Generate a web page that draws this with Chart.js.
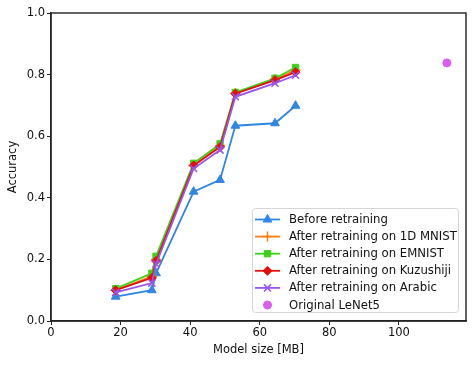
<!DOCTYPE html>
<html>
<head>
<meta charset="utf-8">
<script src="https://cdn.jsdelivr.net/npm/chart.js@4/dist/chart.umd.min.js"></script>
<style>
  body { margin: 0; background: #fff; }
  #wrap { width: 474px; height: 365px; }
</style>
</head>
<body>
<div id="wrap"><canvas id="grafico" width="474" height="365"></canvas></div>
<script>
// tamaños de modelo (MB) y precisión de cada serie
const tamanos = [18.6, 29.0, 30.2, 41.0, 48.6, 53.0, 64.4, 70.3];
const antes = [0.079, 0.10, 0.155, 0.42, 0.458, 0.634, 0.642, 0.699];
const mnist1d = [0.10, 0.145, 0.20, 0.505, 0.57, 0.74, 0.785, 0.815];
const emnist = [0.105, 0.155, 0.21, 0.512, 0.575, 0.742, 0.788, 0.823];
const kuzushiji = [0.10, 0.14, 0.195, 0.505, 0.565, 0.738, 0.782, 0.808];
const arabic = [0.093, 0.123, 0.185, 0.495, 0.555, 0.728, 0.772, 0.798];
const lenetX = [113.8];
const lenetY = [0.838];
const ticksX = [0, 20, 40, 60, 80, 100];
const ticksY = [0, 0.2, 0.4, 0.6, 0.8, 1.0];

const puntos = (xs, ys) => xs.map((x, i) => ({ x: x, y: ys[i] }));

const series = [
    { label: 'Before retraining', data: puntos(tamanos, antes), color: '#2f86e4', estilo: 'triangle', radio: 5 },
    { label: 'After retraining on 1D MNIST', data: puntos(tamanos, mnist1d), color: '#ff7f0e', estilo: 'cross', radio: 5 },
    { label: 'After retraining on EMNIST', data: puntos(tamanos, emnist), color: '#3fd11a', estilo: 'rect', radio: 4.5 },
    { label: 'After retraining on Kuzushiji', data: puntos(tamanos, kuzushiji), color: '#e01010', estilo: 'rectRot', radio: 4.5 },
    { label: 'After retraining on Arabic', data: puntos(tamanos, arabic), color: '#9a55ec', estilo: 'crossRot', radio: 5 },
    { label: 'Original LeNet5', data: puntos(lenetX, lenetY), color: '#da5cf0', estilo: 'circle', radio: 4, soloPunto: true }
];

const datasets = series.map((s, i) => ({
    label: s.label,
    data: s.data,
    borderColor: s.color,
    backgroundColor: s.color,
    borderWidth: 1.8,
    pointStyle: s.estilo,
    pointRadius: s.radio,
    pointBorderWidth: s.estilo === 'cross' || s.estilo === 'crossRot' ? 1.5 : 1,
    showLine: !s.soloPunto,
    order: series.length - i
}));

const fuente = { family: 'DejaVu Sans', size: 11.5 };

// caja alrededor del área y leyenda dentro del gráfico
const marcoYLeyenda = {
    id: 'marcoYLeyenda',
    afterDraw(chart) {
        const ctx = chart.ctx;
        const a = chart.chartArea;
        ctx.save();
        ctx.strokeStyle = '#222';
        ctx.lineWidth = 1.4;
        ctx.strokeRect(a.left, a.top, a.right - a.left, a.bottom - a.top);

        const x0 = 252, y0 = 208, w = 206, h = 104;
        ctx.fillStyle = 'rgba(255,255,255,0.85)';
        ctx.strokeStyle = '#d6d6d6';
        ctx.lineWidth = 1;
        ctx.beginPath();
        ctx.roundRect(x0 + 0.5, y0 + 0.5, w, h, 3);
        ctx.fill();
        ctx.stroke();

        ctx.font = '11.7px "DejaVu Sans"';
        ctx.textBaseline = 'middle';
        series.forEach((s, i) => {
            const y = 219.5 + i * 17.1;
            ctx.strokeStyle = s.color;
            ctx.fillStyle = s.color;
            if (!s.soloPunto) {
                ctx.lineWidth = 1.8;
                ctx.beginPath();
                ctx.moveTo(255, y);
                ctx.lineTo(280, y);
                ctx.stroke();
            }
            ctx.lineWidth = s.estilo === 'cross' || s.estilo === 'crossRot' ? 1.5 : 1;
            Chart.helpers.drawPoint(ctx, { pointStyle: s.estilo, radius: s.radio, rotation: 0, borderWidth: 1 }, 267.5, y);
            ctx.fillStyle = '#111';
            ctx.fillText(s.label, 289, y + 0.5);
        });
        ctx.restore();
    }
};

const ctx = document.getElementById('grafico').getContext('2d');
const myChart = new Chart(ctx, {
    type: 'line',
    data: { datasets: datasets },
    options: {
        responsive: false,
        animation: false,
        layout: { padding: { left: 6, right: 8, top: 13, bottom: 4 } },
        plugins: { legend: { display: false }, tooltip: { enabled: false } },
        scales: {
            x: {
                type: 'linear',
                min: 0,
                max: 119.3,
                afterBuildTicks: (scale) => { scale.ticks = ticksX.map(v => ({ value: v })); },
                afterFit: (scale) => { scale.height = 40; },
                ticks: { color: '#111', font: fuente, padding: 1, maxRotation: 0 },
                grid: { drawOnChartArea: false, drawTicks: true, tickLength: 4, color: '#222' },
                border: { color: '#222', width: 1.4 },
                title: { display: true, text: 'Model size [MB]', color: '#111', font: fuente, padding: { top: 2 } }
            },
            y: {
                min: 0,
                max: 1,
                afterBuildTicks: (scale) => { scale.ticks = ticksY.map(v => ({ value: v })); },
                afterFit: (scale) => { scale.width = 45; },
                ticks: { color: '#111', font: fuente, padding: 2, callback: (v) => v.toFixed(1) },
                grid: { drawOnChartArea: false, drawTicks: true, tickLength: 4, color: '#222' },
                border: { color: '#222', width: 1.4 },
                title: { display: true, text: 'Accuracy', color: '#111', font: fuente, padding: 0 }
            }
        }
    },
    plugins: [marcoYLeyenda]
});
</script>
</body>
</html>
